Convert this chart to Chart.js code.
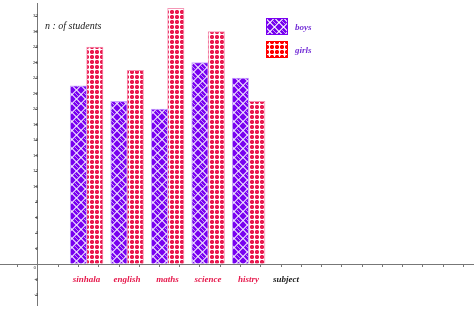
<!DOCTYPE html>
<html><head><meta charset="utf-8">
<script src="https://cdn.jsdelivr.net/npm/chart.js@4.4.0/dist/chart.umd.min.js"></script>
<style>html,body{margin:0;padding:0;background:#fff;overflow:hidden}#wrap{width:474px;height:309px}</style>
</head><body><div id="wrap"><canvas id="c" width="474" height="309"></canvas></div>
<script>
// ---- data ----
const categories = ['sinhala', 'english', 'maths', 'science', 'histry'];
const boys = [23, 21, 20, 26, 24];
const girls = [28, 25, 33, 30, 21];
const seriesNames = ['boys', 'girls'];
const yTicks = [-4, -2, 0, 2, 4, 6, 8, 10, 12, 14, 16, 18, 20, 22, 24, 26, 28, 30, 32];
const yAxisTitle = 'n : of students';
const xAxisTitle = 'subject';

// ---- view (pixel mapping of the original graphics view) ----
const ORIGIN_X = 38, ORIGIN_Y = 264, UNIT_X = 20.25, UNIT_Y = 7.75;

// ---- patterns ----
function diamond(g, cx, cy, r) {
  g.beginPath(); g.moveTo(cx, cy - r); g.lineTo(cx + r, cy); g.lineTo(cx, cy + r); g.lineTo(cx - r, cy); g.closePath(); g.fill();
}
function boysPattern(ctx, col, bg) {
  const s = 9, c = document.createElement('canvas'); c.width = s; c.height = s;
  const g = c.getContext('2d');
  g.fillStyle = bg; g.fillRect(0, 0, s, s);
  g.fillStyle = col;
  [[0, 0], [s, 0], [0, s], [s, s], [s / 2, s / 2]].forEach(p => diamond(g, p[0], p[1], 3.7));
  g.strokeStyle = '#ffffff'; g.lineWidth = 0.8; g.globalAlpha = 0.7;
  g.beginPath(); g.moveTo(s / 2 - 1.5, s / 2 - 1.5); g.lineTo(s / 2 + 1.5, s / 2 + 1.5); g.stroke();
  return ctx.createPattern(c, 'repeat');
}
function girlsPattern(ctx, col) {
  const s = 5, c = document.createElement('canvas'); c.width = s; c.height = s;
  const g = c.getContext('2d');
  g.fillStyle = '#ffffff'; g.fillRect(0, 0, s, s);
  g.fillStyle = col;
  g.fillRect(1, 0, 2, 4); g.fillRect(0, 1, 4, 2);
  g.globalAlpha = 0.45;
  [[0, 0], [3, 0], [0, 3], [3, 3]].forEach(p => g.fillRect(p[0], p[1], 1, 1));
  return ctx.createPattern(c, 'repeat');
}

const canvas = document.getElementById('c');
const ctx = canvas.getContext('2d');
const boysFill = boysPattern(ctx, '#7800f0', '#f1e6ff');
const girlsFill = girlsPattern(ctx, '#ea1a50');
const boysLegend = boysPattern(ctx, '#7400ee', '#ffffff');
const girlsLegend = girlsPattern(ctx, '#ff0000');

const xPos = categories.map((_, i) => 2.4 + 2 * i);

const labelsPlugin = {
  id: 'labels',
  afterDraw(chart) {
    const c = chart.ctx, xs = chart.scales.x, ys = chart.scales.y;
    c.save();
    c.textBaseline = 'middle';
    c.textAlign = 'center';
    c.font = 'italic bold 9px "Liberation Serif"';
    c.fillStyle = '#e6194c';
    categories.forEach((n, i) => c.fillText(n, xs.getPixelForValue(xPos[i]), ys.getPixelForValue(-2)));
    c.fillStyle = '#222';
    c.fillText(xAxisTitle, xs.getPixelForValue(2.4 + 2 * categories.length) - 3, ys.getPixelForValue(-2));
    c.textAlign = 'left';
    c.font = 'italic 10px "Liberation Serif"';
    c.fillText(yAxisTitle, xs.getPixelForValue(0) + 7, ys.getPixelForValue(30.7));
    c.font = '4px "DejaVu Sans"';
    c.fillStyle = '#333';
    c.textAlign = 'right';
    c.fillText('0', xs.getPixelForValue(0) - 2, ys.getPixelForValue(0) + 4);
    // legend
    const fills = [[boysLegend, '#7a00f2'], [girlsLegend, '#ff0000']];
    seriesNames.forEach((n, i) => {
      const x = 266.5, y = 18.5 + i * 23;
      c.fillStyle = fills[i][0]; c.fillRect(x, y, 21, 16);
      c.strokeStyle = fills[i][1]; c.lineWidth = 1; c.strokeRect(x, y, 21, 16);
      c.fillStyle = '#7430d6';
      c.textAlign = 'left';
      c.font = 'italic bold 9px "Liberation Serif"';
      c.fillText(n, 295, y + 9);
    });
    c.restore();
  }
};

const chart = new Chart(canvas, {
  type: 'bar',
  data: {
    datasets: [
      { label: seriesNames[0], data: boys.map((v, i) => ({ x: xPos[i], y: v })), backgroundColor: boysFill, borderColor: '#c9a4ff', borderWidth: 1 },
      { label: seriesNames[1], data: girls.map((v, i) => ({ x: xPos[i], y: v })), backgroundColor: girlsFill, borderColor: '#f597b6', borderWidth: 1 }
    ]
  },
  options: {
    responsive: false,
    animation: false,
    devicePixelRatio: 1,
    layout: { padding: { top: -4, bottom: -4, left: -4, right: -4 } },
    datasets: { bar: { barThickness: 16.4, grouped: true } },
    plugins: { legend: { display: false }, tooltip: { enabled: false } },
    scales: {
      x: {
        type: 'linear', min: -ORIGIN_X / UNIT_X, max: (474 - ORIGIN_X) / UNIT_X, position: { y: 0 },
        offset: false,
        afterBuildTicks: s => { const t = []; for (let v = -1; v <= 21; v++) t.push({ value: v }); s.ticks = t; },
        ticks: { display: false },
        grid: { offset: false, drawOnChartArea: false, drawTicks: true, tickLength: 2, color: '#777' },
        border: { color: '#777', width: 1 }
      },
      y: {
        type: 'linear', min: -(309 - ORIGIN_Y) / UNIT_Y, max: ORIGIN_Y / UNIT_Y, position: { x: 0 },
        offset: false,
        afterBuildTicks: s => { s.ticks = yTicks.map(v => ({ value: v })); },
        ticks: { font: { size: 4, family: 'DejaVu Sans' }, color: '#333', padding: 1, callback: v => v === 0 ? '' : String(v) },
        grid: { drawOnChartArea: false, drawTicks: true, tickLength: 2, color: '#777' },
        border: { color: '#777', width: 1 }
      }
    }
  },
  plugins: [labelsPlugin]
});

// keep the original view mapping whatever the chart area ends up being
for (let k = 0; k < 3; k++) {
  const a = chart.chartArea;
  chart.options.scales.x.min = (a.left - ORIGIN_X) / UNIT_X;
  chart.options.scales.x.max = (a.right - ORIGIN_X) / UNIT_X;
  chart.options.scales.y.max = (ORIGIN_Y - a.top) / UNIT_Y;
  chart.options.scales.y.min = (ORIGIN_Y - a.bottom) / UNIT_Y;
  chart.update('none');
}
</script></body></html>
